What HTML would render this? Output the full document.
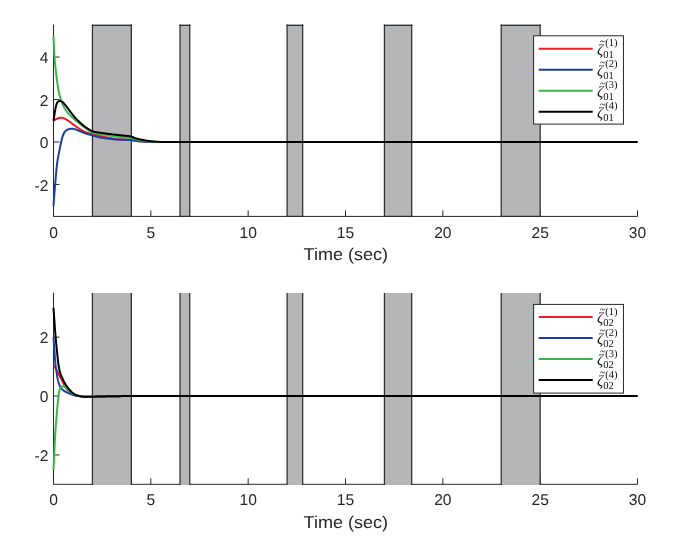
<!DOCTYPE html>
<html><head><meta charset="utf-8"><title>Figure</title>
<style>
html,body{margin:0;padding:0;background:#fff;}
svg{display:block}
.tk{font-family:"Liberation Sans",sans-serif;font-size:15.6px;fill:#262626;text-rendering:geometricPrecision}
.lb{font-family:"Liberation Sans",sans-serif;font-size:17px;fill:#262626;text-rendering:geometricPrecision}
.z{font-family:"Liberation Serif",serif;font-style:italic;font-size:15.5px;fill:#111;text-rendering:geometricPrecision}
.s{font-family:"Liberation Serif",serif;font-size:10.6px;fill:#111;text-rendering:geometricPrecision}
.ln{fill:none;stroke-width:2;stroke-linejoin:round;stroke-linecap:butt}
</style></head><body>
<svg width="685" height="545" viewBox="0 0 685 545">
<rect width="685" height="545" fill="#fff"/>
<defs><clipPath id="c1"><rect x="51.5" y="24.400000000000002" width="588.0" height="192.70000000000002"/></clipPath></defs>
<g stroke="#262626" stroke-width="1" fill="none">
<path d="M53.5,24.6 V216.4 H637.5"/>
<path d="M53.50,216.4 v-6"/>
<path d="M150.83,216.4 v-6"/>
<path d="M248.17,216.4 v-6"/>
<path d="M345.50,216.4 v-6"/>
<path d="M442.83,216.4 v-6"/>
<path d="M540.17,216.4 v-6"/>
<path d="M637.50,216.4 v-6"/>
<path d="M53.5,57.04 h6"/>
<path d="M53.5,99.52 h6"/>
<path d="M53.5,142.00 h6"/>
<path d="M53.5,184.48 h6"/>
</g>
<g clip-path="url(#c1)">
<rect x="92.43" y="20.1" width="38.93" height="201.3" fill="#b5b6b8"/>
<path d="M92.43,20.1 V221.4 M131.37,20.1 V221.4" stroke="#2b2d2f" stroke-width="1.25" fill="none"/>
<path d="M91.83,25.25 H131.97" stroke="#2b2d2f" stroke-width="1.7" fill="none"/>
<path d="M91.88,216.40 H131.92" stroke="#2b2d2f" stroke-width="1.2" fill="none"/>
<rect x="180.03" y="20.1" width="9.73" height="201.3" fill="#b5b6b8"/>
<path d="M180.03,20.1 V221.4 M189.77,20.1 V221.4" stroke="#2b2d2f" stroke-width="1.25" fill="none"/>
<path d="M179.43,25.25 H190.37" stroke="#2b2d2f" stroke-width="1.7" fill="none"/>
<path d="M179.48,216.40 H190.32" stroke="#2b2d2f" stroke-width="1.2" fill="none"/>
<rect x="287.10" y="20.1" width="15.57" height="201.3" fill="#b5b6b8"/>
<path d="M287.10,20.1 V221.4 M302.67,20.1 V221.4" stroke="#2b2d2f" stroke-width="1.25" fill="none"/>
<path d="M286.50,25.25 H303.27" stroke="#2b2d2f" stroke-width="1.7" fill="none"/>
<path d="M286.55,216.40 H303.22" stroke="#2b2d2f" stroke-width="1.2" fill="none"/>
<rect x="384.43" y="20.1" width="27.25" height="201.3" fill="#b5b6b8"/>
<path d="M384.43,20.1 V221.4 M411.69,20.1 V221.4" stroke="#2b2d2f" stroke-width="1.25" fill="none"/>
<path d="M383.83,25.25 H412.29" stroke="#2b2d2f" stroke-width="1.7" fill="none"/>
<path d="M383.88,216.40 H412.24" stroke="#2b2d2f" stroke-width="1.2" fill="none"/>
<rect x="501.23" y="20.1" width="38.93" height="201.3" fill="#b5b6b8"/>
<path d="M501.23,20.1 V221.4 M540.17,20.1 V221.4" stroke="#2b2d2f" stroke-width="1.25" fill="none"/>
<path d="M500.63,25.25 H540.77" stroke="#2b2d2f" stroke-width="1.7" fill="none"/>
<path d="M500.68,216.40 H540.72" stroke="#2b2d2f" stroke-width="1.2" fill="none"/>
</g>
<g clip-path="url(#c1)">
<path class="ln" stroke="#ee1c25" d="M53.50,120.76 L53.74,120.59 L53.99,120.42 L54.23,120.25 L54.48,120.09 L54.72,119.93 L54.97,119.78 L55.21,119.64 L55.46,119.49 L55.70,119.36 L55.95,119.23 L56.19,119.11 L56.44,118.99 L56.68,118.88 L56.93,118.78 L57.17,118.69 L57.33,118.64 L57.42,118.61 L57.66,118.52 L57.91,118.44 L58.15,118.36 L58.40,118.28 L58.64,118.20 L58.89,118.12 L59.13,118.05 L59.38,117.98 L59.62,117.92 L59.87,117.87 L60.11,117.82 L60.36,117.79 L60.60,117.76 L60.85,117.75 L61.01,117.74 L61.09,117.74 L61.34,117.75 L61.58,117.78 L61.83,117.81 L62.07,117.85 L62.32,117.90 L62.56,117.96 L62.80,118.02 L63.05,118.09 L63.29,118.17 L63.54,118.24 L63.78,118.33 L64.03,118.41 L64.27,118.50 L64.52,118.58 L64.67,118.64 L64.76,118.67 L65.01,118.77 L65.25,118.88 L65.50,119.00 L65.74,119.13 L65.99,119.28 L66.23,119.43 L66.48,119.58 L66.72,119.75 L66.97,119.91 L67.21,120.08 L67.46,120.25 L67.70,120.42 L67.95,120.59 L68.19,120.76 L68.35,120.87 L68.44,120.92 L68.68,121.09 L68.93,121.25 L69.17,121.43 L69.42,121.60 L69.66,121.78 L69.91,121.95 L70.15,122.13 L70.40,122.31 L70.64,122.50 L70.89,122.68 L71.13,122.86 L71.38,123.04 L71.62,123.22 L71.86,123.40 L72.03,123.52 L72.11,123.58 L72.35,123.75 L72.60,123.93 L72.84,124.11 L73.09,124.29 L73.33,124.47 L73.58,124.65 L73.82,124.83 L74.07,125.01 L74.31,125.18 L74.56,125.36 L74.80,125.54 L75.05,125.72 L75.29,125.89 L75.54,126.07 L75.69,126.18 L75.78,126.24 L76.03,126.41 L76.27,126.59 L76.52,126.76 L76.76,126.94 L77.01,127.11 L77.25,127.28 L77.50,127.45 L77.74,127.62 L77.99,127.79 L78.23,127.96 L78.48,128.13 L78.72,128.30 L78.97,128.46 L79.21,128.62 L79.37,128.72 L79.46,128.78 L79.70,128.94 L79.95,129.10 L80.19,129.26 L80.44,129.41 L80.68,129.57 L80.92,129.72 L81.17,129.88 L81.41,130.03 L81.66,130.18 L81.90,130.32 L82.15,130.47 L82.39,130.61 L82.64,130.74 L82.88,130.88 L83.03,130.96 L83.13,131.01 L83.37,131.13 L83.62,131.26 L83.86,131.39 L84.11,131.51 L84.35,131.63 L84.60,131.75 L84.84,131.86 L85.09,131.98 L85.33,132.09 L85.58,132.20 L85.82,132.30 L86.07,132.40 L86.31,132.50 L86.56,132.60 L86.71,132.65 L86.80,132.69 L87.05,132.78 L87.29,132.86 L87.54,132.95 L87.78,133.03 L88.03,133.11 L88.27,133.19 L88.52,133.26 L88.76,133.34 L89.01,133.41 L89.25,133.49 L89.49,133.56 L89.74,133.63 L89.98,133.70 L90.23,133.77 L90.47,133.83 L90.72,133.90 L90.96,133.97 L91.21,134.03 L91.45,134.10 L91.70,134.16 L91.94,134.23 L92.19,134.29 L92.43,134.35 L93.09,134.52 L93.74,134.68 L94.40,134.84 L95.05,135.00 L95.71,135.15 L96.36,135.30 L97.01,135.45 L97.67,135.59 L98.32,135.74 L98.98,135.88 L99.63,136.02 L100.29,136.16 L100.94,136.30 L101.59,136.44 L102.25,136.58 L102.75,136.69 L102.90,136.72 L103.56,136.87 L104.21,137.01 L104.87,137.16 L105.52,137.31 L106.17,137.45 L106.83,137.60 L107.48,137.74 L108.14,137.87 L108.79,138.00 L109.45,138.13 L109.95,138.22 L110.10,138.25 L110.75,138.36 L111.41,138.48 L112.06,138.60 L112.72,138.71 L113.37,138.83 L114.03,138.93 L114.68,139.03 L115.34,139.13 L115.99,139.21 L116.64,139.28 L117.30,139.34 L117.35,139.34 L117.95,139.39 L118.61,139.43 L119.26,139.47 L119.92,139.51 L120.57,139.54 L121.22,139.57 L121.88,139.60 L122.53,139.62 L123.19,139.65 L123.84,139.67 L124.50,139.69 L125.15,139.71 L125.80,139.74 L126.46,139.76 L127.11,139.79 L127.77,139.82 L128.42,139.85 L129.08,139.88 L129.73,139.92 L130.39,139.97 L131.04,140.02 L131.37,140.05 L131.69,140.08 L132.35,140.17 L133.00,140.28 L133.66,140.40 L134.31,140.53 L134.97,140.64 L135.26,140.68 L135.62,140.73 L136.27,140.82 L136.93,140.91 L137.58,141.00 L138.24,141.07 L138.89,141.15 L139.35,141.19 L139.55,141.21 L140.20,141.27 L140.85,141.34 L141.51,141.39 L142.16,141.45 L142.82,141.50 L143.47,141.55 L144.13,141.59 L144.78,141.62 L145.19,141.64 L145.44,141.65 L146.09,141.67 L146.74,141.69 L147.40,141.70 L148.05,141.72 L148.71,141.73 L149.36,141.74 L150.02,141.76 L150.67,141.77 L151.22,141.79 L151.32,141.79 L151.98,141.82 L152.63,141.85 L153.29,141.88 L153.94,141.91 L154.60,141.95 L155.25,141.97 L155.90,141.99 L156.56,142.00 L156.67,142.00 L157.21,142.00 L157.87,142.00 L158.52,142.00 L159.18,142.00 L159.83,142.00 L160.48,142.00 L161.14,142.00 L161.79,142.00 L162.45,142.00 L163.10,142.00 L163.76,142.00 L164.41,142.00 L165.07,142.00 L165.72,142.00 L166.37,142.00 L167.03,142.00 L167.68,142.00 L168.34,142.00 L168.99,142.00 L169.65,142.00 L170.30,142.00 L637.50,142.00"/>
<path class="ln" stroke="#1b3fa6" d="M53.50,205.72 L53.74,202.35 L53.99,199.05 L54.23,195.83 L54.47,192.76 L54.48,192.69 L54.72,189.60 L54.97,186.57 L55.21,183.62 L55.46,180.77 L55.56,179.59 L55.70,178.02 L55.95,175.25 L56.19,172.51 L56.44,169.86 L56.68,167.37 L56.93,165.11 L57.16,163.24 L57.17,163.14 L57.42,161.41 L57.66,159.81 L57.91,158.32 L58.15,156.93 L58.40,155.61 L58.64,154.34 L58.89,153.11 L59.13,151.89 L59.38,150.66 L59.53,149.86 L59.62,149.41 L59.87,148.18 L60.11,146.98 L60.36,145.80 L60.60,144.65 L60.85,143.53 L61.09,142.43 L61.19,142.00 L61.34,141.36 L61.58,140.26 L61.83,139.19 L62.07,138.19 L62.32,137.30 L62.47,136.80 L62.56,136.55 L62.80,135.86 L63.05,135.20 L63.29,134.58 L63.54,134.00 L63.78,133.47 L64.03,132.99 L64.27,132.57 L64.52,132.21 L64.67,132.02 L64.76,131.91 L65.01,131.64 L65.25,131.38 L65.50,131.14 L65.74,130.90 L65.99,130.68 L66.23,130.47 L66.48,130.28 L66.72,130.10 L66.97,129.93 L67.21,129.78 L67.46,129.65 L67.70,129.53 L67.95,129.43 L68.19,129.35 L68.35,129.30 L68.44,129.28 L68.68,129.21 L68.93,129.15 L69.17,129.09 L69.42,129.04 L69.66,128.98 L69.91,128.93 L70.15,128.89 L70.40,128.84 L70.64,128.81 L70.89,128.78 L71.13,128.75 L71.38,128.73 L71.62,128.71 L71.86,128.71 L72.03,128.70 L72.11,128.70 L72.35,128.71 L72.60,128.73 L72.84,128.76 L73.09,128.80 L73.33,128.84 L73.58,128.89 L73.82,128.95 L74.07,129.01 L74.31,129.08 L74.56,129.14 L74.80,129.21 L75.05,129.29 L75.29,129.36 L75.54,129.43 L75.69,129.47 L75.78,129.49 L76.03,129.57 L76.27,129.65 L76.52,129.74 L76.76,129.83 L77.01,129.93 L77.25,130.03 L77.50,130.14 L77.74,130.24 L77.99,130.35 L78.23,130.46 L78.48,130.57 L78.72,130.68 L78.97,130.79 L79.21,130.89 L79.37,130.96 L79.46,130.99 L79.70,131.09 L79.95,131.19 L80.19,131.29 L80.44,131.39 L80.68,131.49 L80.92,131.59 L81.17,131.69 L81.41,131.79 L81.66,131.89 L81.90,131.99 L82.15,132.09 L82.39,132.19 L82.64,132.29 L82.88,132.38 L83.03,132.44 L83.13,132.48 L83.37,132.58 L83.62,132.67 L83.86,132.77 L84.11,132.87 L84.35,132.96 L84.60,133.06 L84.84,133.15 L85.09,133.25 L85.33,133.34 L85.58,133.43 L85.82,133.52 L86.07,133.61 L86.31,133.69 L86.56,133.77 L86.71,133.82 L86.80,133.85 L87.05,133.93 L87.29,134.01 L87.54,134.08 L87.78,134.15 L88.03,134.23 L88.27,134.30 L88.52,134.37 L88.76,134.43 L89.01,134.50 L89.25,134.57 L89.49,134.63 L89.74,134.70 L89.98,134.77 L90.23,134.83 L90.47,134.90 L90.72,134.96 L90.96,135.02 L91.21,135.09 L91.45,135.15 L91.70,135.22 L91.94,135.28 L92.19,135.35 L92.43,135.42 L93.09,135.60 L93.74,135.78 L94.40,135.97 L95.05,136.17 L95.71,136.36 L96.36,136.54 L97.01,136.73 L97.67,136.90 L98.32,137.07 L98.98,137.22 L99.63,137.36 L100.03,137.43 L100.29,137.48 L100.94,137.60 L101.59,137.71 L102.25,137.81 L102.90,137.91 L103.56,138.01 L104.21,138.10 L104.87,138.19 L105.52,138.28 L106.17,138.36 L106.83,138.44 L107.48,138.52 L108.14,138.60 L108.79,138.68 L109.45,138.75 L109.95,138.81 L110.10,138.83 L110.75,138.91 L111.41,138.99 L112.06,139.07 L112.72,139.15 L113.37,139.22 L114.03,139.29 L114.68,139.36 L115.34,139.43 L115.99,139.48 L116.64,139.53 L117.30,139.58 L117.35,139.58 L117.95,139.61 L118.61,139.64 L119.26,139.67 L119.92,139.69 L120.57,139.72 L121.22,139.74 L121.88,139.75 L122.53,139.77 L123.19,139.79 L123.84,139.80 L124.50,139.82 L125.15,139.83 L125.80,139.85 L126.46,139.87 L127.11,139.89 L127.77,139.91 L128.42,139.93 L129.08,139.96 L129.73,139.99 L130.39,140.03 L131.04,140.07 L131.37,140.09 L131.69,140.12 L132.35,140.20 L133.00,140.31 L133.66,140.44 L134.31,140.56 L134.97,140.68 L135.26,140.73 L135.62,140.78 L136.27,140.87 L136.93,140.97 L137.58,141.05 L138.24,141.14 L138.89,141.21 L139.35,141.26 L139.55,141.28 L140.20,141.34 L140.85,141.39 L141.51,141.45 L142.16,141.50 L142.82,141.54 L143.47,141.59 L144.13,141.63 L144.78,141.66 L145.19,141.68 L145.44,141.69 L146.09,141.72 L146.74,141.75 L147.40,141.78 L148.05,141.80 L148.71,141.82 L149.36,141.84 L150.02,141.86 L150.67,141.88 L151.22,141.89 L151.32,141.90 L151.98,141.91 L152.63,141.93 L153.29,141.95 L153.94,141.96 L154.60,141.98 L155.25,141.99 L155.90,142.00 L156.56,142.00 L156.67,142.00 L157.21,142.00 L157.87,142.00 L158.52,142.00 L159.18,142.00 L159.83,142.00 L160.48,142.00 L161.14,142.00 L161.79,142.00 L162.45,142.00 L163.10,142.00 L163.76,142.00 L164.41,142.00 L165.07,142.00 L165.72,142.00 L166.37,142.00 L167.03,142.00 L167.68,142.00 L168.34,142.00 L168.99,142.00 L169.65,142.00 L170.30,142.00 L637.50,142.00"/>
<path class="ln" stroke="#3bb54a" d="M53.50,35.80 L53.74,41.84 L53.99,47.49 L54.23,52.47 L54.47,56.40 L54.48,56.49 L54.72,59.75 L54.97,62.65 L55.21,65.24 L55.46,67.60 L55.70,69.80 L55.95,71.90 L56.19,73.97 L56.23,74.24 L56.44,76.04 L56.68,78.05 L56.93,79.98 L57.17,81.84 L57.42,83.61 L57.66,85.30 L57.91,86.88 L58.15,88.36 L58.17,88.48 L58.40,89.75 L58.64,91.06 L58.89,92.30 L59.13,93.45 L59.38,94.50 L59.53,95.12 L59.62,95.45 L59.87,96.30 L60.11,97.08 L60.36,97.82 L60.60,98.53 L60.85,99.23 L61.01,99.73 L61.09,99.96 L61.34,100.72 L61.58,101.47 L61.83,102.21 L62.07,102.92 L62.32,103.59 L62.47,103.98 L62.56,104.18 L62.80,104.75 L63.05,105.28 L63.29,105.80 L63.54,106.29 L63.78,106.76 L64.03,107.22 L64.27,107.65 L64.52,108.07 L64.67,108.33 L64.76,108.48 L65.01,108.88 L65.25,109.27 L65.50,109.65 L65.74,110.02 L65.99,110.38 L66.23,110.74 L66.48,111.08 L66.72,111.42 L66.97,111.75 L67.21,112.07 L67.46,112.39 L67.70,112.69 L67.95,112.99 L68.19,113.29 L68.35,113.47 L68.44,113.57 L68.68,113.85 L68.93,114.12 L69.17,114.38 L69.42,114.64 L69.66,114.89 L69.91,115.13 L70.15,115.37 L70.40,115.61 L70.64,115.84 L70.89,116.07 L71.13,116.30 L71.38,116.53 L71.62,116.76 L71.86,116.99 L72.03,117.15 L72.11,117.22 L72.35,117.45 L72.60,117.68 L72.84,117.91 L73.09,118.14 L73.33,118.37 L73.58,118.59 L73.82,118.82 L74.07,119.04 L74.31,119.26 L74.56,119.48 L74.80,119.69 L75.05,119.91 L75.29,120.12 L75.54,120.33 L75.69,120.46 L75.78,120.54 L76.03,120.74 L76.27,120.95 L76.52,121.14 L76.76,121.34 L77.01,121.54 L77.25,121.73 L77.50,121.92 L77.74,122.11 L77.99,122.30 L78.23,122.50 L78.48,122.69 L78.72,122.88 L78.97,123.07 L79.21,123.27 L79.37,123.39 L79.46,123.46 L79.70,123.66 L79.95,123.86 L80.19,124.06 L80.44,124.26 L80.68,124.46 L80.92,124.67 L81.17,124.87 L81.41,125.07 L81.66,125.27 L81.90,125.47 L82.15,125.66 L82.39,125.86 L82.64,126.05 L82.88,126.24 L83.03,126.35 L83.13,126.42 L83.37,126.60 L83.62,126.77 L83.86,126.95 L84.11,127.12 L84.35,127.29 L84.60,127.45 L84.84,127.62 L85.09,127.79 L85.33,127.95 L85.58,128.12 L85.82,128.29 L86.07,128.46 L86.31,128.63 L86.56,128.80 L86.71,128.92 L86.80,128.98 L87.05,129.17 L87.29,129.36 L87.54,129.56 L87.78,129.76 L88.03,129.95 L88.27,130.15 L88.52,130.35 L88.76,130.54 L89.01,130.72 L89.25,130.90 L89.49,131.07 L89.65,131.17 L89.74,131.22 L89.98,131.38 L90.23,131.54 L90.47,131.69 L90.72,131.85 L90.96,131.99 L91.21,132.13 L91.45,132.26 L91.70,132.38 L91.94,132.49 L92.19,132.58 L92.43,132.65 L93.09,132.82 L93.74,132.96 L94.40,133.09 L95.05,133.21 L95.71,133.32 L96.36,133.41 L97.01,133.50 L97.67,133.58 L98.32,133.66 L98.98,133.74 L99.63,133.81 L100.29,133.88 L100.94,133.96 L101.59,134.04 L102.25,134.13 L102.75,134.20 L102.90,134.23 L103.56,134.33 L104.21,134.43 L104.87,134.53 L105.52,134.63 L106.17,134.73 L106.83,134.83 L107.48,134.94 L108.14,135.04 L108.79,135.14 L109.45,135.24 L110.10,135.35 L110.75,135.45 L111.41,135.55 L112.06,135.65 L112.72,135.75 L113.37,135.85 L114.03,135.94 L114.68,136.04 L115.34,136.13 L115.99,136.23 L116.64,136.32 L117.30,136.41 L117.35,136.41 L117.95,136.49 L118.61,136.57 L119.26,136.65 L119.92,136.72 L120.57,136.79 L121.22,136.86 L121.88,136.93 L122.53,136.99 L123.19,137.06 L123.84,137.12 L124.50,137.19 L125.15,137.26 L125.80,137.33 L126.46,137.40 L127.11,137.48 L127.77,137.56 L128.42,137.65 L129.08,137.74 L129.73,137.84 L130.39,137.94 L131.04,138.05 L131.37,138.11 L131.69,138.18 L132.35,138.35 L133.00,138.55 L133.66,138.76 L134.31,138.97 L134.97,139.16 L135.26,139.24 L135.62,139.32 L136.27,139.48 L136.93,139.62 L137.58,139.76 L138.24,139.89 L138.89,140.01 L139.35,140.09 L139.55,140.12 L140.20,140.23 L140.85,140.34 L141.51,140.44 L142.16,140.53 L142.82,140.63 L143.47,140.72 L144.13,140.80 L144.78,140.89 L145.19,140.94 L145.44,140.97 L146.09,141.05 L146.74,141.13 L147.40,141.20 L148.05,141.28 L148.71,141.35 L149.36,141.41 L150.02,141.47 L150.67,141.53 L151.22,141.58 L151.32,141.58 L151.98,141.63 L152.63,141.68 L153.29,141.72 L153.94,141.77 L154.60,141.80 L155.25,141.84 L155.90,141.87 L156.56,141.89 L156.67,141.89 L157.21,141.91 L157.87,141.93 L158.52,141.94 L159.18,141.96 L159.83,141.97 L160.48,141.98 L161.14,141.99 L161.79,142.00 L162.45,142.00 L162.51,142.00 L163.10,142.00 L163.76,142.00 L164.41,142.00 L165.07,142.00 L165.72,142.00 L166.37,142.00 L167.03,142.00 L167.68,142.00 L168.34,142.00 L168.99,142.00 L169.65,142.00 L170.30,142.00 L637.50,142.00"/>
<path class="ln" stroke="#000000" d="M53.50,120.76 L53.74,119.03 L53.99,117.37 L54.23,115.78 L54.48,114.26 L54.72,112.81 L54.97,111.44 L55.14,110.56 L55.21,110.15 L55.46,108.86 L55.70,107.59 L55.95,106.40 L56.19,105.34 L56.44,104.46 L56.61,103.98 L56.68,103.82 L56.93,103.28 L57.17,102.78 L57.42,102.36 L57.66,102.01 L57.91,101.76 L58.07,101.64 L58.15,101.60 L58.40,101.49 L58.64,101.38 L58.89,101.28 L59.13,101.20 L59.38,101.13 L59.62,101.07 L59.87,101.03 L60.11,101.01 L60.27,101.01 L60.36,101.01 L60.60,101.04 L60.85,101.11 L61.09,101.21 L61.34,101.34 L61.58,101.48 L61.83,101.64 L62.07,101.80 L62.32,101.96 L62.47,102.07 L62.56,102.13 L62.80,102.31 L63.05,102.53 L63.29,102.76 L63.54,103.02 L63.78,103.28 L64.03,103.56 L64.27,103.84 L64.52,104.12 L64.67,104.30 L64.76,104.40 L65.01,104.69 L65.25,104.98 L65.50,105.28 L65.74,105.60 L65.99,105.91 L66.23,106.24 L66.48,106.56 L66.72,106.89 L66.97,107.22 L67.21,107.55 L67.46,107.89 L67.70,108.22 L67.95,108.54 L68.19,108.87 L68.35,109.08 L68.44,109.19 L68.68,109.51 L68.93,109.83 L69.17,110.15 L69.42,110.47 L69.66,110.79 L69.91,111.11 L70.15,111.44 L70.40,111.76 L70.64,112.08 L70.89,112.39 L71.13,112.71 L71.38,113.03 L71.62,113.34 L71.86,113.65 L72.03,113.86 L72.11,113.95 L72.35,114.26 L72.60,114.57 L72.84,114.87 L73.09,115.18 L73.33,115.48 L73.58,115.78 L73.82,116.08 L74.07,116.38 L74.31,116.67 L74.56,116.96 L74.80,117.25 L75.05,117.53 L75.29,117.81 L75.54,118.08 L75.69,118.25 L75.78,118.35 L76.03,118.62 L76.27,118.87 L76.52,119.13 L76.76,119.38 L77.01,119.63 L77.25,119.88 L77.50,120.12 L77.74,120.36 L77.99,120.60 L78.23,120.84 L78.48,121.07 L78.72,121.31 L78.97,121.54 L79.21,121.78 L79.37,121.93 L79.46,122.01 L79.70,122.24 L79.95,122.47 L80.19,122.70 L80.44,122.93 L80.68,123.16 L80.92,123.39 L81.17,123.62 L81.41,123.84 L81.66,124.06 L81.90,124.28 L82.15,124.50 L82.39,124.71 L82.64,124.92 L82.88,125.12 L83.03,125.24 L83.13,125.32 L83.37,125.52 L83.62,125.71 L83.86,125.91 L84.11,126.10 L84.35,126.29 L84.60,126.47 L84.84,126.66 L85.09,126.84 L85.33,127.02 L85.58,127.20 L85.82,127.37 L86.07,127.54 L86.31,127.71 L86.56,127.88 L86.71,127.98 L86.80,128.04 L87.05,128.20 L87.29,128.36 L87.54,128.52 L87.78,128.67 L88.03,128.83 L88.27,128.98 L88.52,129.12 L88.76,129.27 L89.01,129.41 L89.25,129.56 L89.49,129.70 L89.65,129.79 L89.74,129.84 L89.98,129.98 L90.23,130.13 L90.47,130.28 L90.72,130.43 L90.96,130.58 L91.21,130.72 L91.45,130.86 L91.70,130.98 L91.94,131.10 L92.19,131.19 L92.43,131.27 L93.09,131.46 L93.74,131.62 L94.40,131.78 L95.05,131.92 L95.71,132.04 L96.36,132.16 L97.01,132.27 L97.67,132.37 L98.32,132.47 L98.98,132.56 L99.63,132.65 L100.29,132.74 L100.94,132.83 L101.59,132.91 L102.25,133.01 L102.75,133.08 L102.90,133.10 L103.56,133.20 L104.21,133.29 L104.87,133.38 L105.52,133.47 L106.17,133.56 L106.83,133.64 L107.48,133.73 L108.14,133.81 L108.79,133.89 L109.45,133.97 L110.10,134.05 L110.75,134.13 L111.41,134.21 L112.06,134.29 L112.72,134.37 L113.37,134.45 L114.03,134.52 L114.68,134.60 L115.34,134.68 L115.99,134.76 L116.64,134.84 L117.30,134.92 L117.35,134.93 L117.95,135.00 L118.61,135.07 L119.26,135.14 L119.92,135.21 L120.57,135.27 L121.22,135.34 L121.88,135.40 L122.53,135.46 L123.19,135.52 L123.84,135.58 L124.50,135.65 L125.15,135.71 L125.80,135.78 L126.46,135.86 L127.11,135.94 L127.77,136.02 L128.42,136.11 L129.08,136.21 L129.73,136.32 L130.39,136.43 L131.04,136.56 L131.37,136.63 L131.69,136.71 L132.35,136.93 L133.00,137.21 L133.66,137.51 L134.31,137.81 L134.97,138.08 L135.26,138.18 L135.62,138.29 L136.27,138.48 L136.93,138.66 L137.58,138.82 L138.24,138.98 L138.89,139.13 L139.35,139.24 L139.55,139.28 L140.20,139.43 L140.85,139.57 L141.51,139.71 L142.16,139.85 L142.82,139.98 L143.47,140.10 L144.13,140.22 L144.78,140.34 L145.19,140.41 L145.44,140.45 L146.09,140.55 L146.74,140.66 L147.40,140.76 L148.05,140.85 L148.71,140.94 L149.36,141.03 L150.02,141.12 L150.67,141.19 L151.22,141.26 L151.32,141.27 L151.98,141.34 L152.63,141.41 L153.29,141.47 L153.94,141.53 L154.60,141.59 L155.25,141.65 L155.90,141.70 L156.56,141.74 L156.67,141.75 L157.21,141.78 L157.87,141.82 L158.52,141.86 L159.18,141.89 L159.83,141.93 L160.48,141.96 L161.14,141.98 L161.79,141.99 L162.45,142.00 L162.51,142.00 L163.10,142.00 L163.76,142.00 L164.41,142.00 L165.07,142.00 L165.72,142.00 L166.37,142.00 L167.03,142.00 L167.68,142.00 L168.34,142.00 L168.99,142.00 L169.65,142.00 L170.30,142.00 L637.50,142.00"/>
</g>
<text class="tk" x="53.50" y="237.70" text-anchor="middle">0</text>
<text class="tk" x="150.83" y="237.70" text-anchor="middle">5</text>
<text class="tk" x="248.17" y="237.70" text-anchor="middle">10</text>
<text class="tk" x="345.50" y="237.70" text-anchor="middle">15</text>
<text class="tk" x="442.83" y="237.70" text-anchor="middle">20</text>
<text class="tk" x="540.17" y="237.70" text-anchor="middle">25</text>
<text class="tk" x="637.50" y="237.70" text-anchor="middle">30</text>
<text class="tk" x="48.40" y="63.24" text-anchor="end">4</text>
<text class="tk" x="48.40" y="105.72" text-anchor="end">2</text>
<text class="tk" x="48.40" y="148.20" text-anchor="end">0</text>
<text class="tk" x="48.40" y="190.68" text-anchor="end">-2</text>
<text class="lb" x="345.80" y="259.90" text-anchor="middle" textLength="84.5" lengthAdjust="spacingAndGlyphs">Time (sec)</text>
<rect x="533.6" y="35.8" width="89.85000000000002" height="88.3" fill="#fff" stroke="#262626" stroke-width="1"/>
<path class="ln" stroke="#ee1c25" d="M538.7,48.80 H592.7"/>
<text class="z" x="597.1" y="54.70">ζ</text>
<text class="s" x="599.8" y="44.80" style="font-size:11px">~</text>
<text class="s" x="605.3" y="46.30">(1)</text>
<text class="s" x="603.3" y="57.90">01</text>
<path class="ln" stroke="#1b3fa6" d="M538.7,69.80 H592.7"/>
<text class="z" x="597.1" y="75.70">ζ</text>
<text class="s" x="599.8" y="65.80" style="font-size:11px">~</text>
<text class="s" x="605.3" y="67.30">(2)</text>
<text class="s" x="603.3" y="78.90">01</text>
<path class="ln" stroke="#3bb54a" d="M538.7,90.80 H592.7"/>
<text class="z" x="597.1" y="96.70">ζ</text>
<text class="s" x="599.8" y="86.80" style="font-size:11px">~</text>
<text class="s" x="605.3" y="88.30">(3)</text>
<text class="s" x="603.3" y="99.90">01</text>
<path class="ln" stroke="#000000" d="M538.7,111.80 H592.7"/>
<text class="z" x="597.1" y="117.70">ζ</text>
<text class="s" x="599.8" y="107.80" style="font-size:11px">~</text>
<text class="s" x="605.3" y="109.30">(4)</text>
<text class="s" x="603.3" y="120.90">01</text>
<defs><clipPath id="c2"><rect x="51.5" y="292.9" width="588.0" height="192.10000000000002"/></clipPath></defs>
<g stroke="#262626" stroke-width="1" fill="none">
<path d="M53.5,292.7 V484.3 H637.5"/>
<path d="M53.50,484.3 v-6"/>
<path d="M150.83,484.3 v-6"/>
<path d="M248.17,484.3 v-6"/>
<path d="M345.50,484.3 v-6"/>
<path d="M442.83,484.3 v-6"/>
<path d="M540.17,484.3 v-6"/>
<path d="M637.50,484.3 v-6"/>
<path d="M53.5,337.15 h6"/>
<path d="M53.5,396.05 h6"/>
<path d="M53.5,454.95 h6"/>
</g>
<g clip-path="url(#c2)">
<rect x="92.43" y="288.2" width="38.93" height="201.10000000000002" fill="#b5b6b8"/>
<path d="M92.43,288.2 V489.3 M131.37,288.2 V489.3" stroke="#2b2d2f" stroke-width="1.25" fill="none"/>
<rect x="180.03" y="288.2" width="9.73" height="201.10000000000002" fill="#b5b6b8"/>
<path d="M180.03,288.2 V489.3 M189.77,288.2 V489.3" stroke="#2b2d2f" stroke-width="1.25" fill="none"/>
<rect x="287.10" y="288.2" width="15.57" height="201.10000000000002" fill="#b5b6b8"/>
<path d="M287.10,288.2 V489.3 M302.67,288.2 V489.3" stroke="#2b2d2f" stroke-width="1.25" fill="none"/>
<rect x="384.43" y="288.2" width="27.25" height="201.10000000000002" fill="#b5b6b8"/>
<path d="M384.43,288.2 V489.3 M411.69,288.2 V489.3" stroke="#2b2d2f" stroke-width="1.25" fill="none"/>
<rect x="501.23" y="288.2" width="38.93" height="201.10000000000002" fill="#b5b6b8"/>
<path d="M501.23,288.2 V489.3 M540.17,288.2 V489.3" stroke="#2b2d2f" stroke-width="1.25" fill="none"/>
</g>
<g clip-path="url(#c2)">
<path class="ln" stroke="#ee1c25" d="M53.50,365.72 L53.74,365.95 L53.99,366.20 L54.23,366.48 L54.48,366.77 L54.72,367.08 L54.97,367.40 L55.21,367.74 L55.45,368.07 L55.46,368.09 L55.70,368.47 L55.95,368.88 L56.19,369.31 L56.44,369.77 L56.68,370.24 L56.93,370.71 L57.17,371.19 L57.39,371.61 L57.42,371.65 L57.66,372.12 L57.91,372.60 L58.15,373.08 L58.40,373.56 L58.64,374.04 L58.76,374.26 L58.89,374.51 L59.13,374.97 L59.38,375.43 L59.62,375.88 L59.87,376.34 L60.11,376.79 L60.36,377.24 L60.60,377.70 L60.85,378.15 L61.09,378.62 L61.34,379.08 L61.38,379.18 L61.58,379.56 L61.83,380.04 L62.07,380.53 L62.32,381.03 L62.56,381.53 L62.80,382.03 L63.05,382.52 L63.29,383.01 L63.54,383.49 L63.78,383.96 L63.95,384.27 L64.03,384.41 L64.27,384.87 L64.52,385.33 L64.76,385.79 L65.01,386.24 L65.25,386.69 L65.50,387.12 L65.74,387.53 L65.99,387.92 L66.23,388.28 L66.48,388.61 L66.54,388.69 L66.72,388.90 L66.97,389.18 L67.21,389.45 L67.46,389.71 L67.70,389.95 L67.95,390.19 L68.19,390.41 L68.44,390.63 L68.68,390.84 L68.93,391.05 L69.17,391.25 L69.42,391.44 L69.66,391.63 L69.91,391.82 L70.05,391.93 L70.15,392.01 L70.40,392.19 L70.64,392.37 L70.89,392.54 L71.13,392.71 L71.38,392.87 L71.62,393.03 L71.86,393.19 L72.11,393.34 L72.35,393.49 L72.60,393.63 L72.84,393.77 L72.97,393.84 L73.09,393.91 L73.33,394.05 L73.58,394.18 L73.82,394.32 L74.07,394.45 L74.31,394.57 L74.56,394.70 L74.80,394.81 L75.05,394.92 L75.29,395.02 L75.54,395.11 L75.69,395.17 L75.78,395.20 L76.03,395.27 L76.27,395.35 L76.52,395.41 L76.76,395.48 L77.01,395.54 L77.25,395.60 L77.50,395.66 L77.74,395.72 L77.99,395.77 L78.23,395.82 L78.48,395.87 L78.72,395.92 L78.97,395.97 L79.21,396.02 L79.37,396.05 L79.46,396.07 L79.70,396.12 L79.95,396.17 L80.19,396.22 L80.44,396.27 L80.68,396.32 L80.92,396.37 L81.17,396.42 L81.41,396.47 L81.66,396.51 L81.90,396.55 L82.15,396.58 L82.39,396.61 L82.64,396.62 L82.88,396.64 L83.09,396.64 L83.13,396.64 L83.37,396.64 L83.62,396.64 L83.86,396.64 L84.11,396.64 L84.35,396.64 L84.60,396.64 L84.84,396.64 L85.09,396.64 L85.33,396.64 L85.58,396.64 L85.82,396.64 L86.07,396.64 L86.31,396.64 L86.56,396.64 L86.80,396.64 L87.05,396.64 L87.29,396.64 L87.54,396.64 L87.78,396.64 L88.03,396.64 L88.27,396.64 L88.52,396.64 L88.54,396.64 L88.76,396.64 L89.01,396.64 L89.25,396.64 L89.49,396.63 L89.74,396.63 L89.98,396.63 L90.23,396.63 L90.47,396.62 L90.72,396.62 L90.96,396.61 L91.21,396.61 L91.45,396.60 L91.70,396.60 L91.94,396.59 L92.19,396.58 L92.43,396.58 L93.09,396.56 L93.74,396.54 L94.40,396.51 L95.05,396.49 L95.71,396.47 L96.36,396.45 L97.01,396.43 L97.67,396.41 L98.32,396.39 L98.98,396.37 L99.63,396.36 L100.22,396.34 L100.29,396.34 L100.94,396.33 L101.59,396.32 L102.25,396.31 L102.90,396.30 L103.56,396.30 L104.21,396.29 L104.87,396.28 L105.52,396.27 L106.17,396.26 L106.83,396.26 L107.48,396.25 L108.14,396.24 L108.79,396.23 L109.45,396.23 L110.10,396.22 L110.75,396.21 L111.41,396.21 L112.06,396.20 L112.72,396.20 L113.37,396.19 L114.03,396.18 L114.68,396.18 L115.34,396.17 L115.79,396.17 L115.99,396.17 L116.64,396.16 L117.30,396.15 L117.95,396.15 L118.61,396.14 L119.26,396.13 L119.92,396.13 L120.57,396.12 L121.22,396.11 L121.88,396.11 L122.53,396.10 L123.19,396.09 L123.84,396.09 L124.50,396.08 L125.15,396.08 L125.80,396.07 L126.46,396.07 L127.11,396.06 L127.77,396.06 L128.42,396.06 L129.08,396.05 L129.73,396.05 L130.39,396.05 L131.04,396.05 L131.37,396.05 L131.69,396.05 L132.35,396.05 L133.00,396.05 L133.66,396.05 L134.31,396.05 L134.97,396.05 L135.62,396.05 L136.27,396.05 L136.93,396.05 L137.58,396.05 L138.24,396.05 L138.89,396.05 L139.55,396.05 L140.20,396.05 L140.85,396.05 L141.51,396.05 L142.16,396.05 L142.82,396.05 L143.47,396.05 L144.13,396.05 L144.78,396.05 L145.44,396.05 L146.09,396.05 L146.74,396.05 L147.40,396.05 L148.05,396.05 L148.71,396.05 L149.36,396.05 L150.02,396.05 L150.67,396.05 L151.32,396.05 L151.98,396.05 L152.63,396.05 L153.29,396.05 L153.94,396.05 L154.60,396.05 L155.25,396.05 L155.90,396.05 L156.56,396.05 L157.21,396.05 L157.87,396.05 L158.52,396.05 L159.18,396.05 L159.83,396.05 L160.48,396.05 L161.14,396.05 L161.79,396.05 L162.45,396.05 L163.10,396.05 L163.76,396.05 L164.41,396.05 L165.07,396.05 L165.72,396.05 L166.37,396.05 L167.03,396.05 L167.68,396.05 L168.34,396.05 L168.99,396.05 L169.65,396.05 L170.30,396.05 L637.50,396.05"/>
<path class="ln" stroke="#1b3fa6" d="M53.50,337.15 L53.74,340.86 L53.99,344.47 L54.23,347.97 L54.47,351.29 L54.48,351.37 L54.72,354.79 L54.97,358.21 L55.21,361.39 L55.46,364.10 L55.51,364.54 L55.70,366.26 L55.95,368.11 L56.19,369.77 L56.44,371.34 L56.61,372.49 L56.68,372.95 L56.93,374.59 L57.17,376.20 L57.42,377.69 L57.66,378.98 L57.70,379.18 L57.91,380.07 L58.15,381.07 L58.40,381.98 L58.64,382.81 L58.89,383.56 L59.13,384.24 L59.15,384.27 L59.38,384.85 L59.62,385.43 L59.87,385.97 L60.11,386.47 L60.36,386.93 L60.60,387.35 L60.85,387.72 L61.01,387.95 L61.09,388.05 L61.34,388.35 L61.58,388.64 L61.83,388.91 L62.07,389.17 L62.32,389.41 L62.56,389.64 L62.80,389.86 L63.05,390.07 L63.29,390.27 L63.54,390.46 L63.78,390.64 L64.03,390.82 L64.27,390.99 L64.52,391.15 L64.67,391.25 L64.76,391.31 L65.01,391.46 L65.25,391.61 L65.50,391.74 L65.74,391.88 L65.99,392.01 L66.23,392.13 L66.48,392.25 L66.72,392.37 L66.97,392.48 L67.21,392.60 L67.46,392.71 L67.70,392.82 L67.95,392.92 L68.19,393.03 L68.35,393.11 L68.44,393.14 L68.68,393.25 L68.93,393.36 L69.17,393.46 L69.42,393.57 L69.66,393.67 L69.91,393.77 L70.15,393.87 L70.40,393.97 L70.64,394.07 L70.89,394.16 L71.13,394.25 L71.38,394.34 L71.62,394.43 L71.86,394.52 L72.03,394.58 L72.11,394.60 L72.35,394.69 L72.60,394.77 L72.84,394.86 L73.09,394.95 L73.33,395.03 L73.58,395.11 L73.82,395.20 L74.07,395.27 L74.31,395.35 L74.56,395.42 L74.80,395.48 L75.05,395.54 L75.29,395.60 L75.54,395.64 L75.69,395.67 L75.78,395.68 L76.03,395.72 L76.27,395.75 L76.52,395.77 L76.76,395.80 L77.01,395.82 L77.25,395.85 L77.50,395.87 L77.74,395.89 L77.99,395.91 L78.23,395.93 L78.48,395.95 L78.72,395.98 L78.97,396.00 L79.21,396.03 L79.37,396.05 L79.46,396.06 L79.70,396.10 L79.95,396.14 L80.19,396.19 L80.44,396.24 L80.68,396.29 L80.92,396.34 L81.17,396.39 L81.41,396.44 L81.66,396.49 L81.90,396.53 L82.15,396.57 L82.39,396.60 L82.64,396.62 L82.88,396.64 L83.09,396.64 L83.13,396.64 L83.37,396.64 L83.62,396.64 L83.86,396.64 L84.11,396.64 L84.35,396.64 L84.60,396.64 L84.84,396.64 L85.09,396.64 L85.33,396.64 L85.58,396.64 L85.82,396.64 L86.07,396.64 L86.31,396.64 L86.56,396.64 L86.80,396.64 L87.05,396.64 L87.29,396.64 L87.54,396.64 L87.78,396.64 L88.03,396.64 L88.27,396.64 L88.52,396.64 L88.54,396.64 L88.76,396.64 L89.01,396.64 L89.25,396.64 L89.49,396.63 L89.74,396.63 L89.98,396.63 L90.23,396.63 L90.47,396.62 L90.72,396.62 L90.96,396.61 L91.21,396.61 L91.45,396.60 L91.70,396.60 L91.94,396.59 L92.19,396.58 L92.43,396.58 L93.09,396.56 L93.74,396.54 L94.40,396.51 L95.05,396.49 L95.71,396.47 L96.36,396.45 L97.01,396.43 L97.67,396.41 L98.32,396.39 L98.98,396.37 L99.63,396.36 L100.22,396.34 L100.29,396.34 L100.94,396.33 L101.59,396.32 L102.25,396.31 L102.90,396.30 L103.56,396.30 L104.21,396.29 L104.87,396.28 L105.52,396.27 L106.17,396.26 L106.83,396.26 L107.48,396.25 L108.14,396.24 L108.79,396.23 L109.45,396.23 L110.10,396.22 L110.75,396.21 L111.41,396.21 L112.06,396.20 L112.72,396.20 L113.37,396.19 L114.03,396.18 L114.68,396.18 L115.34,396.17 L115.79,396.17 L115.99,396.17 L116.64,396.16 L117.30,396.15 L117.95,396.15 L118.61,396.14 L119.26,396.13 L119.92,396.13 L120.57,396.12 L121.22,396.11 L121.88,396.11 L122.53,396.10 L123.19,396.09 L123.84,396.09 L124.50,396.08 L125.15,396.08 L125.80,396.07 L126.46,396.07 L127.11,396.06 L127.77,396.06 L128.42,396.06 L129.08,396.05 L129.73,396.05 L130.39,396.05 L131.04,396.05 L131.37,396.05 L131.69,396.05 L132.35,396.05 L133.00,396.05 L133.66,396.05 L134.31,396.05 L134.97,396.05 L135.62,396.05 L136.27,396.05 L136.93,396.05 L137.58,396.05 L138.24,396.05 L138.89,396.05 L139.55,396.05 L140.20,396.05 L140.85,396.05 L141.51,396.05 L142.16,396.05 L142.82,396.05 L143.47,396.05 L144.13,396.05 L144.78,396.05 L145.44,396.05 L146.09,396.05 L146.74,396.05 L147.40,396.05 L148.05,396.05 L148.71,396.05 L149.36,396.05 L150.02,396.05 L150.67,396.05 L151.32,396.05 L151.98,396.05 L152.63,396.05 L153.29,396.05 L153.94,396.05 L154.60,396.05 L155.25,396.05 L155.90,396.05 L156.56,396.05 L157.21,396.05 L157.87,396.05 L158.52,396.05 L159.18,396.05 L159.83,396.05 L160.48,396.05 L161.14,396.05 L161.79,396.05 L162.45,396.05 L163.10,396.05 L163.76,396.05 L164.41,396.05 L165.07,396.05 L165.72,396.05 L166.37,396.05 L167.03,396.05 L167.68,396.05 L168.34,396.05 L168.99,396.05 L169.65,396.05 L170.30,396.05 L637.50,396.05"/>
<path class="ln" stroke="#3bb54a" d="M53.50,469.68 L53.74,464.37 L53.99,459.18 L54.23,454.15 L54.36,451.71 L54.48,449.26 L54.72,444.34 L54.97,439.49 L55.21,434.89 L55.46,430.67 L55.60,428.44 L55.70,426.97 L55.95,423.64 L56.19,420.56 L56.44,417.66 L56.68,414.89 L56.93,412.18 L57.16,409.60 L57.17,409.45 L57.42,406.62 L57.66,403.75 L57.91,400.99 L58.15,398.49 L58.40,396.40 L58.44,396.05 L58.64,394.69 L58.89,393.14 L59.13,391.79 L59.38,390.70 L59.53,390.16 L59.62,389.90 L59.87,389.23 L60.11,388.62 L60.36,388.10 L60.60,387.68 L60.85,387.36 L61.01,387.22 L61.09,387.16 L61.34,387.00 L61.58,386.85 L61.83,386.72 L62.07,386.60 L62.32,386.51 L62.56,386.43 L62.80,386.37 L63.05,386.34 L63.23,386.33 L63.29,386.33 L63.54,386.35 L63.78,386.38 L64.03,386.44 L64.27,386.50 L64.52,386.58 L64.76,386.67 L65.01,386.77 L65.25,386.87 L65.37,386.92 L65.50,386.98 L65.74,387.14 L65.99,387.33 L66.23,387.57 L66.48,387.82 L66.72,388.10 L66.97,388.37 L67.21,388.65 L67.46,388.91 L67.61,389.07 L67.70,389.16 L67.95,389.40 L68.19,389.65 L68.44,389.91 L68.68,390.16 L68.93,390.42 L69.17,390.68 L69.42,390.93 L69.66,391.17 L69.91,391.41 L70.15,391.64 L70.40,391.85 L70.55,391.99 L70.64,392.06 L70.89,392.25 L71.13,392.44 L71.38,392.63 L71.62,392.80 L71.86,392.98 L72.11,393.14 L72.35,393.31 L72.60,393.46 L72.84,393.62 L72.97,393.69 L73.09,393.77 L73.33,393.92 L73.58,394.07 L73.82,394.22 L74.07,394.37 L74.31,394.51 L74.56,394.65 L74.80,394.78 L75.05,394.90 L75.29,395.01 L75.54,395.11 L75.69,395.17 L75.78,395.20 L76.03,395.28 L76.27,395.35 L76.52,395.42 L76.76,395.49 L77.01,395.55 L77.25,395.61 L77.50,395.67 L77.74,395.72 L77.99,395.78 L78.23,395.83 L78.48,395.88 L78.72,395.92 L78.97,395.97 L79.21,396.02 L79.37,396.05 L79.46,396.07 L79.70,396.12 L79.95,396.17 L80.19,396.22 L80.44,396.27 L80.68,396.32 L80.92,396.37 L81.17,396.42 L81.41,396.47 L81.66,396.51 L81.90,396.55 L82.15,396.58 L82.39,396.61 L82.64,396.62 L82.88,396.64 L83.09,396.64 L83.13,396.64 L83.37,396.64 L83.62,396.64 L83.86,396.64 L84.11,396.64 L84.35,396.64 L84.60,396.64 L84.84,396.64 L85.09,396.64 L85.33,396.64 L85.58,396.64 L85.82,396.64 L86.07,396.64 L86.31,396.64 L86.56,396.64 L86.80,396.64 L87.05,396.64 L87.29,396.64 L87.54,396.64 L87.78,396.64 L88.03,396.64 L88.27,396.64 L88.52,396.64 L88.54,396.64 L88.76,396.64 L89.01,396.64 L89.25,396.64 L89.49,396.63 L89.74,396.63 L89.98,396.63 L90.23,396.63 L90.47,396.62 L90.72,396.62 L90.96,396.61 L91.21,396.61 L91.45,396.60 L91.70,396.60 L91.94,396.59 L92.19,396.58 L92.43,396.58 L93.09,396.56 L93.74,396.54 L94.40,396.51 L95.05,396.49 L95.71,396.47 L96.36,396.45 L97.01,396.43 L97.67,396.41 L98.32,396.39 L98.98,396.37 L99.63,396.36 L100.22,396.34 L100.29,396.34 L100.94,396.33 L101.59,396.32 L102.25,396.31 L102.90,396.30 L103.56,396.30 L104.21,396.29 L104.87,396.28 L105.52,396.27 L106.17,396.26 L106.83,396.26 L107.48,396.25 L108.14,396.24 L108.79,396.23 L109.45,396.23 L110.10,396.22 L110.75,396.21 L111.41,396.21 L112.06,396.20 L112.72,396.20 L113.37,396.19 L114.03,396.18 L114.68,396.18 L115.34,396.17 L115.79,396.17 L115.99,396.17 L116.64,396.16 L117.30,396.15 L117.95,396.15 L118.61,396.14 L119.26,396.13 L119.92,396.13 L120.57,396.12 L121.22,396.11 L121.88,396.11 L122.53,396.10 L123.19,396.09 L123.84,396.09 L124.50,396.08 L125.15,396.08 L125.80,396.07 L126.46,396.07 L127.11,396.06 L127.77,396.06 L128.42,396.06 L129.08,396.05 L129.73,396.05 L130.39,396.05 L131.04,396.05 L131.37,396.05 L131.69,396.05 L132.35,396.05 L133.00,396.05 L133.66,396.05 L134.31,396.05 L134.97,396.05 L135.62,396.05 L136.27,396.05 L136.93,396.05 L137.58,396.05 L138.24,396.05 L138.89,396.05 L139.55,396.05 L140.20,396.05 L140.85,396.05 L141.51,396.05 L142.16,396.05 L142.82,396.05 L143.47,396.05 L144.13,396.05 L144.78,396.05 L145.44,396.05 L146.09,396.05 L146.74,396.05 L147.40,396.05 L148.05,396.05 L148.71,396.05 L149.36,396.05 L150.02,396.05 L150.67,396.05 L151.32,396.05 L151.98,396.05 L152.63,396.05 L153.29,396.05 L153.94,396.05 L154.60,396.05 L155.25,396.05 L155.90,396.05 L156.56,396.05 L157.21,396.05 L157.87,396.05 L158.52,396.05 L159.18,396.05 L159.83,396.05 L160.48,396.05 L161.14,396.05 L161.79,396.05 L162.45,396.05 L163.10,396.05 L163.76,396.05 L164.41,396.05 L165.07,396.05 L165.72,396.05 L166.37,396.05 L167.03,396.05 L167.68,396.05 L168.34,396.05 L168.99,396.05 L169.65,396.05 L170.30,396.05 L637.50,396.05"/>
<path class="ln" stroke="#000000" d="M53.50,307.70 L53.74,311.48 L53.99,315.16 L54.23,318.73 L54.48,322.19 L54.67,324.78 L54.72,325.54 L54.97,328.81 L55.21,332.00 L55.46,335.07 L55.70,338.00 L55.84,339.51 L55.95,340.75 L56.19,343.37 L56.44,345.88 L56.68,348.30 L56.93,350.66 L57.17,352.99 L57.33,354.53 L57.42,355.32 L57.66,357.73 L57.91,360.11 L58.15,362.33 L58.40,364.22 L58.44,364.54 L58.64,365.78 L58.89,367.20 L59.13,368.50 L59.38,369.67 L59.62,370.74 L59.87,371.69 L59.92,371.90 L60.11,372.55 L60.36,373.34 L60.60,374.06 L60.85,374.74 L61.09,375.37 L61.34,375.97 L61.58,376.56 L61.75,376.97 L61.83,377.13 L62.07,377.70 L62.32,378.25 L62.56,378.78 L62.80,379.29 L63.05,379.80 L63.29,380.29 L63.54,380.76 L63.78,381.23 L64.03,381.68 L64.27,382.13 L64.52,382.56 L64.67,382.83 L64.76,382.98 L65.01,383.40 L65.25,383.81 L65.50,384.21 L65.74,384.60 L65.99,384.99 L66.23,385.37 L66.48,385.74 L66.72,386.10 L66.97,386.46 L67.21,386.81 L67.46,387.15 L67.70,387.48 L67.95,387.81 L68.19,388.13 L68.35,388.33 L68.44,388.44 L68.68,388.75 L68.93,389.05 L69.17,389.35 L69.42,389.64 L69.66,389.93 L69.91,390.22 L70.15,390.49 L70.40,390.76 L70.64,391.03 L70.89,391.28 L71.13,391.53 L71.38,391.77 L71.62,392.00 L71.86,392.22 L72.03,392.37 L72.11,392.43 L72.35,392.64 L72.60,392.85 L72.84,393.05 L73.09,393.25 L73.33,393.45 L73.58,393.64 L73.82,393.82 L74.07,393.99 L74.31,394.16 L74.56,394.32 L74.80,394.47 L75.05,394.62 L75.29,394.74 L75.54,394.86 L75.69,394.93 L75.78,394.97 L76.03,395.07 L76.27,395.16 L76.52,395.26 L76.76,395.34 L77.01,395.42 L77.25,395.50 L77.50,395.58 L77.74,395.65 L77.99,395.72 L78.23,395.78 L78.48,395.85 L78.72,395.91 L78.97,395.96 L79.21,396.02 L79.37,396.05 L79.46,396.07 L79.70,396.12 L79.95,396.17 L80.19,396.22 L80.44,396.27 L80.68,396.32 L80.92,396.36 L81.17,396.41 L81.41,396.45 L81.66,396.49 L81.90,396.52 L82.15,396.56 L82.39,396.58 L82.64,396.61 L82.88,396.63 L83.09,396.64 L83.13,396.64 L83.37,396.65 L83.62,396.66 L83.86,396.67 L84.11,396.69 L84.35,396.70 L84.60,396.70 L84.84,396.71 L85.09,396.72 L85.33,396.73 L85.58,396.74 L85.82,396.75 L86.07,396.75 L86.31,396.76 L86.56,396.76 L86.80,396.77 L87.05,396.77 L87.29,396.78 L87.54,396.78 L87.78,396.78 L88.03,396.78 L88.27,396.79 L88.52,396.79 L88.54,396.79 L88.76,396.79 L89.01,396.79 L89.25,396.78 L89.49,396.78 L89.74,396.78 L89.98,396.78 L90.23,396.77 L90.47,396.77 L90.72,396.77 L90.96,396.76 L91.21,396.76 L91.45,396.75 L91.70,396.75 L91.94,396.74 L92.19,396.74 L92.43,396.73 L93.09,396.71 L93.74,396.69 L94.40,396.67 L95.05,396.65 L95.71,396.63 L96.36,396.60 L97.01,396.58 L97.67,396.56 L98.32,396.54 L98.98,396.52 L99.63,396.51 L100.22,396.49 L100.29,396.49 L100.94,396.48 L101.59,396.46 L102.25,396.45 L102.90,396.43 L103.56,396.42 L104.21,396.41 L104.87,396.39 L105.52,396.38 L106.17,396.36 L106.83,396.35 L107.48,396.34 L108.14,396.32 L108.79,396.31 L109.45,396.30 L110.10,396.29 L110.75,396.27 L111.41,396.26 L112.06,396.25 L112.72,396.24 L113.37,396.23 L114.03,396.22 L114.68,396.21 L115.34,396.20 L115.79,396.20 L115.99,396.19 L116.64,396.19 L117.30,396.18 L117.95,396.17 L118.61,396.16 L119.26,396.15 L119.92,396.14 L120.57,396.14 L121.22,396.13 L121.88,396.12 L122.53,396.11 L123.19,396.10 L123.84,396.10 L124.50,396.09 L125.15,396.08 L125.80,396.08 L126.46,396.07 L127.11,396.07 L127.77,396.06 L128.42,396.06 L129.08,396.05 L129.73,396.05 L130.39,396.05 L131.04,396.05 L131.37,396.05 L131.69,396.05 L132.35,396.05 L133.00,396.05 L133.66,396.05 L134.31,396.05 L134.97,396.05 L135.62,396.05 L136.27,396.05 L136.93,396.05 L137.58,396.05 L138.24,396.05 L138.89,396.05 L139.55,396.05 L140.20,396.05 L140.85,396.05 L141.51,396.05 L142.16,396.05 L142.82,396.05 L143.47,396.05 L144.13,396.05 L144.78,396.05 L145.44,396.05 L146.09,396.05 L146.74,396.05 L147.40,396.05 L148.05,396.05 L148.71,396.05 L149.36,396.05 L150.02,396.05 L150.67,396.05 L151.32,396.05 L151.98,396.05 L152.63,396.05 L153.29,396.05 L153.94,396.05 L154.60,396.05 L155.25,396.05 L155.90,396.05 L156.56,396.05 L157.21,396.05 L157.87,396.05 L158.52,396.05 L159.18,396.05 L159.83,396.05 L160.48,396.05 L161.14,396.05 L161.79,396.05 L162.45,396.05 L163.10,396.05 L163.76,396.05 L164.41,396.05 L165.07,396.05 L165.72,396.05 L166.37,396.05 L167.03,396.05 L167.68,396.05 L168.34,396.05 L168.99,396.05 L169.65,396.05 L170.30,396.05 L637.50,396.05"/>
</g>
<text class="tk" x="53.50" y="504.70" text-anchor="middle">0</text>
<text class="tk" x="150.83" y="504.70" text-anchor="middle">5</text>
<text class="tk" x="248.17" y="504.70" text-anchor="middle">10</text>
<text class="tk" x="345.50" y="504.70" text-anchor="middle">15</text>
<text class="tk" x="442.83" y="504.70" text-anchor="middle">20</text>
<text class="tk" x="540.17" y="504.70" text-anchor="middle">25</text>
<text class="tk" x="637.50" y="504.70" text-anchor="middle">30</text>
<text class="tk" x="48.40" y="343.35" text-anchor="end">2</text>
<text class="tk" x="48.40" y="402.25" text-anchor="end">0</text>
<text class="tk" x="48.40" y="461.15" text-anchor="end">-2</text>
<text class="lb" x="345.80" y="528.40" text-anchor="middle" textLength="84.5" lengthAdjust="spacingAndGlyphs">Time (sec)</text>
<rect x="533.6" y="304.4" width="89.85000000000002" height="88.7" fill="#fff" stroke="#262626" stroke-width="1"/>
<path class="ln" stroke="#ee1c25" d="M538.7,317.10 H592.7"/>
<text class="z" x="597.1" y="323.00">ζ</text>
<text class="s" x="599.8" y="313.10" style="font-size:11px">~</text>
<text class="s" x="605.3" y="314.60">(1)</text>
<text class="s" x="603.3" y="326.20">02</text>
<path class="ln" stroke="#1b3fa6" d="M538.7,338.10 H592.7"/>
<text class="z" x="597.1" y="344.00">ζ</text>
<text class="s" x="599.8" y="334.10" style="font-size:11px">~</text>
<text class="s" x="605.3" y="335.60">(2)</text>
<text class="s" x="603.3" y="347.20">02</text>
<path class="ln" stroke="#3bb54a" d="M538.7,359.10 H592.7"/>
<text class="z" x="597.1" y="365.00">ζ</text>
<text class="s" x="599.8" y="355.10" style="font-size:11px">~</text>
<text class="s" x="605.3" y="356.60">(3)</text>
<text class="s" x="603.3" y="368.20">02</text>
<path class="ln" stroke="#000000" d="M538.7,380.10 H592.7"/>
<text class="z" x="597.1" y="386.00">ζ</text>
<text class="s" x="599.8" y="376.10" style="font-size:11px">~</text>
<text class="s" x="605.3" y="377.60">(4)</text>
<text class="s" x="603.3" y="389.20">02</text>
</svg></body></html>
